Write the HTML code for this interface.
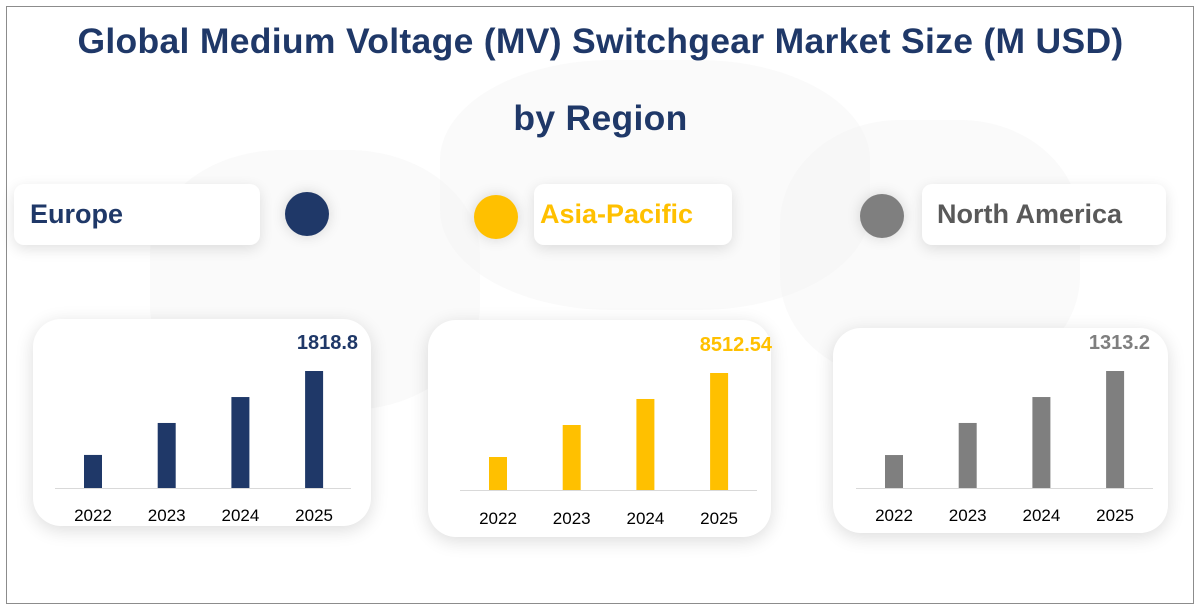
<!DOCTYPE html>
<html><head><meta charset="utf-8"><style>
body{margin:0;width:1201px;height:610px;background:#fff;position:relative;overflow:hidden;font-family:"Liberation Sans",Calibri,sans-serif}
.frame{position:absolute;left:6px;top:6px;width:1188px;height:598px;border:1px solid #8c8c8c;box-sizing:border-box}
.title{position:absolute;left:0;width:1201px;text-align:center;color:#1f3868;font-weight:bold;font-size:35.5px;letter-spacing:0.3px}
.pill{position:absolute;height:61px;background:#fff;border-radius:10px;box-shadow:0 4px 14px rgba(0,0,0,.12);font-weight:bold;font-size:27px;line-height:61px;box-sizing:border-box}
.dot{position:absolute;width:44px;height:44px;border-radius:50%;box-shadow:0 0 14px rgba(0,0,0,.15)}
.card{position:absolute;background:#fff;border-radius:28px;box-shadow:0 4px 18px rgba(0,0,0,.14)}
.map{position:absolute;background:#f3f3f3;border-radius:40%}
</style></head><body>
<div class="map" style="left:150px;top:150px;width:330px;height:260px;opacity:.45"></div>
<div class="map" style="left:440px;top:60px;width:430px;height:250px;opacity:.45"></div>
<div class="map" style="left:780px;top:120px;width:300px;height:260px;opacity:.4"></div>
<div class="frame"></div>
<div class="title" style="top:21px">Global Medium Voltage (MV) Switchgear Market Size (M USD)</div>
<div class="title" style="top:98px">by Region</div>
<div id="root"></div>
<script>
const years=["2022","2023","2024","2025"];
const europeValues=[514,1011,1414,1818.8];
const asiaValues=[2401,4729,6622,8512.54];
const naValues=[370,730,1021,1313.2];
const regionNames=["Europe","Asia-Pacific","North America"];
const valueLabels=["1818.8","8512.54","1313.2"];
const series=[europeValues,asiaValues,naValues];
const colors=["#1f3868","#ffc000","#7f7f7f"];
const layout=[
 {pill:[14,184,246],pillPad:16,dot:[285,192],card:[33,319,338,207],axis:[55,351,488],bar0:84,lblY:521,valX:358},
 {pill:[534,184,198],pillPad:6,dot:[474,195],card:[428,320,343,217],axis:[460,757,490],bar0:489,lblY:524,valX:772},
 {pill:[922,184,244],pillPad:15,dot:[860,194],card:[833,328,335,205],axis:[856,1153,488],bar0:885,lblY:521,valX:1150}
];
const root=document.getElementById('root');
const maxH=117,step=73.7,bw=18;
layout.forEach((L,i)=>{
 const slug=regionNames[i].toLowerCase().replace(/\s+/g,'-');
 const p=document.createElement('div');p.className='pill';
 
 
 p.style.cssText=`left:${L.pill[0]}px;top:${L.pill[1]}px;width:${L.pill[2]}px;padding-left:${L.pillPad}px;color:${i==2?'#595959':colors[i]}`;
 p.textContent=regionNames[i];root.appendChild(p);
 const d=document.createElement('div');d.className='dot';
 
 
 d.style.cssText=`left:${L.dot[0]}px;top:${L.dot[1]}px;background:${colors[i]}`;root.appendChild(d);
 const c=document.createElement('div');c.className='card';
 
 
 c.style.cssText=`left:${L.card[0]}px;top:${L.card[1]}px;width:${L.card[2]}px;height:${L.card[3]}px`;root.appendChild(c);
 const NS='http://www.w3.org/2000/svg';
 const svg=document.createElementNS(NS,'svg');
 
 
 svg.setAttribute('width','1201');svg.setAttribute('height','610');
 svg.style.cssText='position:absolute;left:0;top:0';
 const vals=series[i],mx=Math.max(...vals);
 const y=v=>L.axis[2]-v/mx*maxH;
 const ax=document.createElementNS(NS,'line');
 
 
 ax.setAttribute('x1',L.axis[0]);ax.setAttribute('x2',L.axis[1]);ax.setAttribute('y1',L.axis[2]+.5);ax.setAttribute('y2',L.axis[2]+.5);
 ax.setAttribute('stroke','#d9d9d9');svg.appendChild(ax);
 vals.forEach((v,j)=>{
  const x=L.bar0+j*step;
  const r=document.createElementNS(NS,'rect');
  
  
  r.setAttribute('x',x);r.setAttribute('y',y(v));r.setAttribute('width',bw);r.setAttribute('height',L.axis[2]-y(v));r.setAttribute('fill',colors[i]);
  svg.appendChild(r);
  const t=document.createElementNS(NS,'text');
  
  
  t.setAttribute('x',x+bw/2);t.setAttribute('y',L.lblY);t.setAttribute('text-anchor','middle');
  t.setAttribute('font-size','17');t.setAttribute('fill','#000');t.textContent=years[j];svg.appendChild(t);
 });
 const vt=document.createElementNS(NS,'text');
 
 
 vt.setAttribute('x',L.valX);vt.setAttribute('y',y(vals[3])-22);vt.setAttribute('text-anchor','end');
 vt.setAttribute('font-size','20');vt.setAttribute('font-weight','bold');vt.setAttribute('fill',colors[i]);
 vt.textContent=valueLabels[i];svg.appendChild(vt);
 root.appendChild(svg);
});
</script>
</body></html>
